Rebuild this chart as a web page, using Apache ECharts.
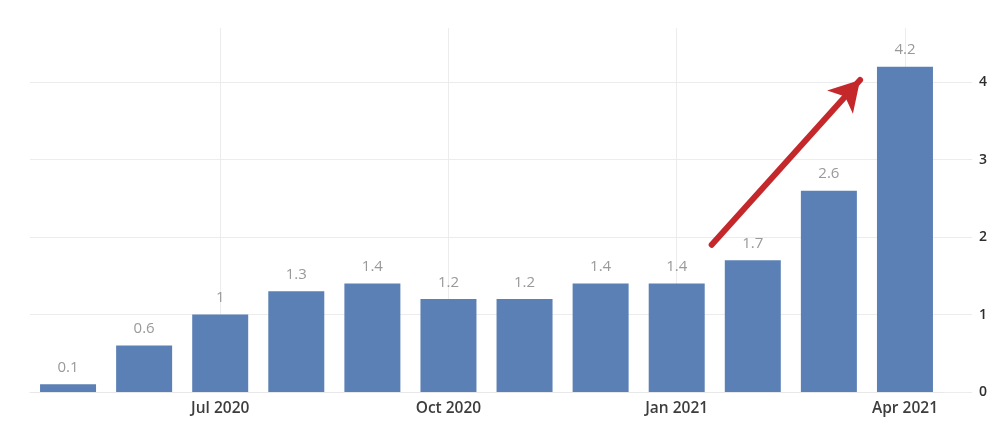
<!DOCTYPE html>
<html>
<head>
<meta charset="utf-8">
<script src="https://cdn.jsdelivr.net/npm/echarts@6/dist/echarts.min.js"></script>
<style>html,body{margin:0;padding:0;background:#fff}#c{width:1000px;height:432px}</style>
</head>
<body>
<div id="c"></div>
<script>
var categories = ['May 2020','Jun 2020','Jul 2020','Aug 2020','Sep 2020','Oct 2020','Nov 2020','Dec 2020','Jan 2021','Feb 2021','Mar 2021','Apr 2021'];
var values = [0.1, 0.6, 1, 1.3, 1.4, 1.2, 1.2, 1.4, 1.4, 1.7, 2.6, 4.2];
var shownLabels = ['Jul 2020','Oct 2020','Jan 2021','Apr 2021'];
// annotation arrow, in data units (category index, value)
var arrowFrom = [8.46, 1.9];
var arrowTo = [10.41, 4.03];

var yMax = 4.7;
var chart = echarts.init(document.getElementById('c'));
var font = 'Open Sans';
function isInt(v) { return Math.abs(v - Math.round(v)) < 1e-6; }
chart.setOption({
  animation: false,
  backgroundColor: '#fff',
  grid: [
    {left: 30, right: 57, top: 28, bottom: 40, z: 2},
    {left: 30, right: 28, top: 28, bottom: 40, z: 0}
  ],
  xAxis: [{
    gridIndex: 0, type: 'category', data: categories,
    axisLine: {show: true, lineStyle: {color: '#e8e8e8'}},
    axisTick: {show: false},
    splitLine: {show: false},
    axisLabel: {
      interval: function (i, v) { return shownLabels.indexOf(v) >= 0; },
      formatter: function (v) { return shownLabels.indexOf(v) >= 0 ? v : ''; },
      color: '#3d3d3d', fontSize: 15.5, fontWeight: 600, fontFamily: font, margin: 9
    }
  }, {
    gridIndex: 0, type: 'value', min: -0.5, max: 11.5, show: false
  }, {
    gridIndex: 1, type: 'value', min: 0, max: 1, show: false
  }],
  yAxis: [{
    gridIndex: 0, type: 'value', min: 0, max: yMax, show: false, splitLine: {show: false}
  }, {
    gridIndex: 1, type: 'value', position: 'right', min: 0, max: yMax, interval: 1,
    axisLine: {show: false}, axisTick: {show: false},
    splitLine: {show: true, showMaxLine: false, lineStyle: {color: '#ececec'}},
    axisLabel: {color: '#2e2e2e', fontSize: 14, fontWeight: 600, fontFamily: font, margin: 7,
      formatter: function (v) { return isInt(v) ? String(v) : ''; }}
  }],
  series: [{
    type: 'line', xAxisIndex: 0, yAxisIndex: 0, data: [], z: 1, silent: true,
    markLine: {
      z: 1, symbol: 'none', silent: true, label: {show: false},
      lineStyle: {color: '#ececec', type: 'solid', width: 1},
      data: shownLabels.map(function (c) { return {xAxis: c}; })
    }
  }, {
    type: 'bar', xAxisIndex: 0, yAxisIndex: 0, data: values, barWidth: 56, z: 2,
    itemStyle: {color: '#5b80b5'},
    label: {show: true, position: 'top', distance: 9, color: '#999', fontSize: 15, fontFamily: font}
  }, {
    type: 'line', xAxisIndex: 1, yAxisIndex: 0, data: [arrowFrom, arrowTo], z: 5, silent: true,
    symbol: 'none', lineStyle: {opacity: 0},
    markLine: {
      z: 6, silent: true, symbol: ['none', 'arrow'], symbolSize: [26, 30], label: {show: false},
      lineStyle: {color: '#c4282b', type: 'solid', width: 6, cap: 'round'},
      data: [[{coord: arrowFrom}, {coord: arrowTo}]]
    }
  }]
});
</script>
</body>
</html>
